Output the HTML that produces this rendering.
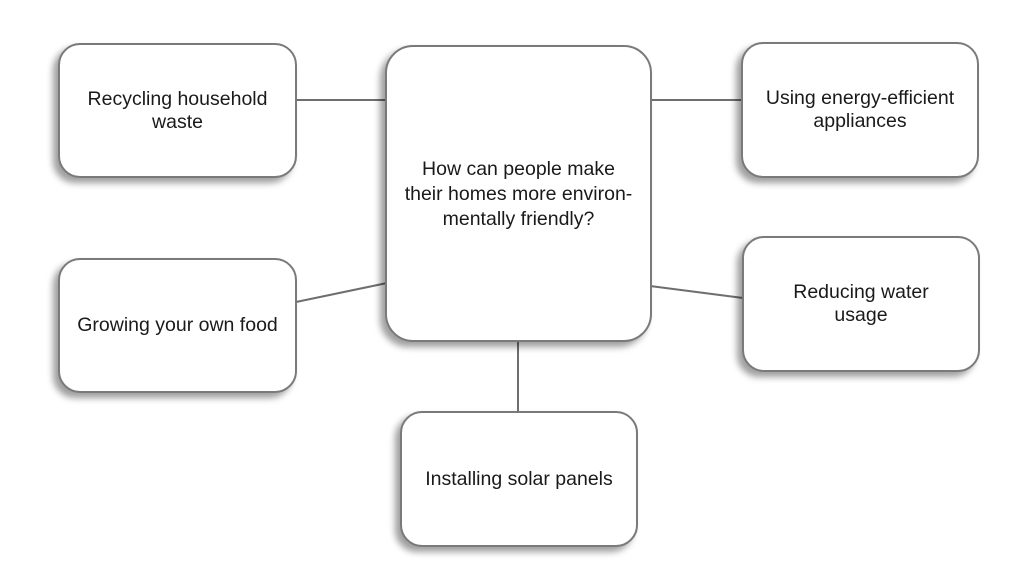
<!DOCTYPE html>
<html><head><meta charset="utf-8"><style>
html,body{margin:0;padding:0;background:#fff;width:1024px;height:586px;overflow:hidden}
.b{position:absolute;box-sizing:border-box;border:2px solid #7a7a7a;border-radius:22px;background:#fff;
box-shadow:-5px 5px 7px rgba(0,0,0,.38);display:flex;align-items:center;justify-content:center;text-align:center;
font-family:"Liberation Sans",sans-serif;font-size:19.5px;line-height:23px;color:#1a1a1a;white-space:nowrap}
svg{position:absolute;left:0;top:0}
</style></head><body>
<svg width="1024" height="586"><g stroke="#6e6e6e" stroke-width="2">
<line x1="296" y1="100" x2="387" y2="100"/>
<line x1="650" y1="100" x2="743" y2="100"/>
<line x1="296" y1="302" x2="387" y2="283"/>
<line x1="650" y1="286" x2="743" y2="298"/>
<line x1="518" y1="340" x2="518" y2="412"/>
</g></svg>
<div class="b" style="left:58px;top:43px;width:239px;height:135px">Recycling household<br>waste</div>
<div class="b" style="left:741px;top:42px;width:238px;height:136px">Using energy-efficient<br>appliances</div>
<div class="b" style="left:58px;top:258px;width:239px;height:135px">Growing your own food</div>
<div class="b" style="left:742px;top:236px;width:238px;height:136px">Reducing water<br>usage</div>
<div class="b" style="left:400px;top:411px;width:238px;height:136px">Installing solar panels</div>
<div class="b" style="left:385px;top:45px;width:267px;height:297px;border-radius:28px;line-height:25px;padding-top:2px">How can people make<br>their homes more environ-<br>mentally friendly?</div>
</body></html>
